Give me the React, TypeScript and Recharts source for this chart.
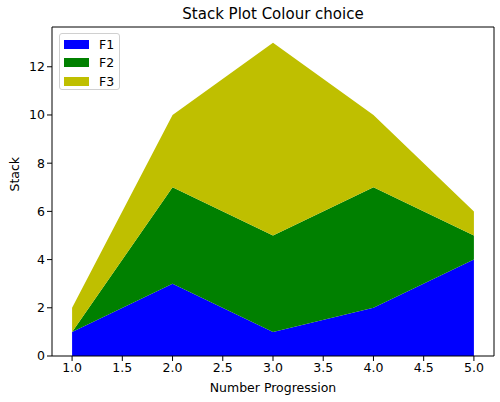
import { AreaChart, Area, XAxis, YAxis, ReferenceLine } from "recharts";

const xs = [1, 2, 3, 4, 5];
const f1 = [1, 3, 1, 2, 4];
const f2 = [0, 4, 4, 5, 1];
const f3 = [1, 3, 8, 3, 1];
const xTicks = [1, 1.5, 2, 2.5, 3, 3.5, 4, 4.5, 5];
const yTicks = [0, 2, 4, 6, 8, 10, 12];

const series = [
  { key: "F1", color: "#0000ff" },
  { key: "F2", color: "#008000" },
  { key: "F3", color: "#bfbf00" },
];

const data = xs.map((x, i) => ({ x, F1: f1[i], F2: f2[i], F3: f3[i] }));

const font = "'DejaVu Sans', sans-serif";

const LegendBox = () => (
  <div
    style={{
      position: "absolute",
      left: 59,
      top: 33,
      width: 61,
      height: 57,
      boxSizing: "border-box",
      border: "1px solid #d0d0d0",
      borderRadius: 3,
      background: "white",
      padding: "1px 0 0 4px",
      fontFamily: font,
      fontSize: 12.5,
    }}
  >
    {series.map((s) => (
      <div key={s.key} style={{ display: "flex", alignItems: "center", height: 18.5 }}>
        <span style={{ width: 25, height: 9, background: s.color, display: "inline-block", marginRight: 10 }} />
        <span>{s.key}</span>
      </div>
    ))}
  </div>
);

export default function App() {
  return (
    <div style={{ position: "absolute", left: 0, top: 0, width: 500, height: 402, background: "white" }}>
      <AreaChart
        width={500}
        height={402}
        data={data}
        margin={{ top: 27, right: 6, bottom: 0, left: 0 }}
      >
        <XAxis
          dataKey="x"
          type="number"
          domain={[0.8, 5.2]}
          ticks={xTicks}
          tickFormatter={(v: number) => v.toFixed(1)}
          height={46}
          tickSize={5}
          stroke="#000"
          tick={{ fill: "#000", fontSize: 12.5, fontFamily: font }}
          label={{ value: "Number Progression", position: "insideBottom", offset: 10, fill: "#000", fontSize: 12.5, fontFamily: font }}
        />
        <YAxis
          type="number"
          domain={[0, 13.65]}
          ticks={yTicks}
          width={52}
          tickSize={5}
          stroke="#000"
          allowDataOverflow
          tick={{ fill: "#000", fontSize: 12.5, fontFamily: font }}
          label={{ value: "Stack", angle: -90, position: "insideLeft", offset: 15, fill: "#000", fontSize: 12.5, fontFamily: font }}
        />
        {series.map((s) => (
          <Area
            key={s.key}
            dataKey={s.key}
            stackId="a"
            type="linear"
            fill={s.color}
            fillOpacity={1}
            stroke="none"
            isAnimationActive={false}
          />
        ))}
        <ReferenceLine y={13.65} stroke="#000" />
        <ReferenceLine x={5.2} stroke="#000" />
      </AreaChart>
      <div
        style={{
          position: "absolute",
          top: 5,
          left: 52,
          width: 442,
          textAlign: "center",
          fontFamily: font,
          fontSize: 15,
        }}
      >
        Stack Plot Colour choice
      </div>
      <LegendBox />
    </div>
  );
}
